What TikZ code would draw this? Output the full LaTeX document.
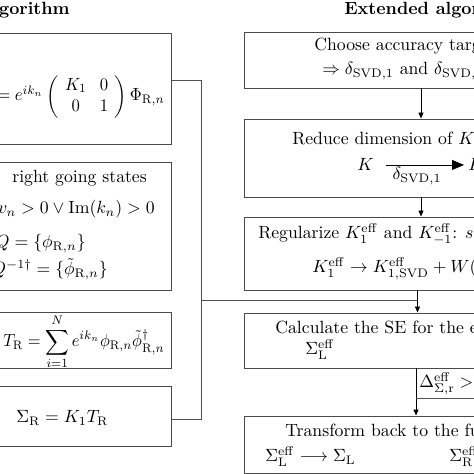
\documentclass[tikz,border=0pt]{standalone}
\usetikzlibrary{arrows.meta}
\definecolor{boxgray}{HTML}{4A4A4A}
\definecolor{linegray}{HTML}{505050}
\begin{document}
\begin{tikzpicture}[x=1pt,y=1pt,
  box/.style={draw=boxgray, line width=0.9pt, fill=white, minimum width=352pt, inner sep=0pt},
  txt/.style={inner sep=0pt, scale=1.77},
  conn/.style={draw=linegray, line width=0.8pt},
  arr/.style={draw=black, line width=0.8pt, -{Triangle[length=6pt,width=5pt]}},
  bigarr/.style={draw=black, line width=0.8pt, -{Triangle[length=12pt,width=10pt]}}]
\useasboundingbox (0,0) rectangle (474,474);
\clip (0,0) rectangle (474,474);
\fill[white] (0,0) rectangle (474,474);

% titles
\node[txt, anchor=base east] (tl) at (70,459) {\bfseries algorithm};
\node[txt, anchor=base west] (tr) at (344,459) {\bfseries Extended algorithm};

% left column boxes
\node[box, minimum height=111pt] (L1) at (-5,385.5) {};
\node[box, minimum height=128pt] (L2) at (-5,248) {};
\node[box, minimum height=56pt]  (L3) at (-5,134) {};
\node[box, minimum height=60pt]  (L4) at (-5,58) {};

% right column boxes
\node[box, minimum height=56pt] (R1) at (420,414) {};
\node[box, minimum height=78pt] (R2) at (420,316) {};
\node[box, minimum height=73pt] (R3) at (420,220.5) {};
\node[box, minimum height=55pt] (R4) at (420,133.5) {};
\node[box, minimum height=57pt] (R5) at (420,29.5) {};

% left texts
\node[txt, xscale=0.94, anchor=base east] (l1a) at (165,373) {\setlength{\arraycolsep}{4pt}$= e^{ik_n}\left(\begin{array}{cc}K_1 & 0\\ 0 & 1\end{array}\right)\Phi_{\mathrm{R},n}$};
\node[txt, anchor=base west] (l2a) at (12,291) {right going states};
\node[txt, anchor=base east] (l2b) at (155,260) {$v_n > 0 \vee \mathrm{Im}(k_n) > 0$};
\node[txt, anchor=base east] (l2c) at (86,226) {$Q = \{\phi_{\mathrm{R},n}\}$};
\node[txt, anchor=base east] (l2d) at (108,199) {$Q^{-1\dagger} = \{\tilde\phi_{\mathrm{R},n}\}$};
\node[txt, xscale=0.93, anchor=base west] (l3a) at (3,127) {$T_{\mathrm{R}} = \displaystyle\sum_{i=1}^{N} e^{ik_n}\phi_{\mathrm{R},n}\tilde\phi^{\dagger}_{\mathrm{R},n}$};
\node[txt, anchor=base west] (l4a) at (16,51) {$\Sigma_{\mathrm{R}} = K_1 T_{\mathrm{R}}$};

% right texts
\node[txt, anchor=base west] (r1a) at (314,423) {Choose accuracy target};
\node[txt, anchor=base west] (r1b) at (322,399) {$\Rightarrow \delta_{\mathrm{SVD},1}$ and $\delta_{\mathrm{SVD},2}$};
\node[txt, anchor=base west] (r2a) at (292,329) {Reduce dimension of $K$};
\node[txt, anchor=base west] (kA) at (357,303) {$K$};
\node[txt, anchor=base west] (kB) at (468,303) {$K^{\mathrm{eff}}$};
\node[txt, anchor=base] (kd) at (417,294) {$\delta_{\mathrm{SVD},1}$};
\node[txt, anchor=base west] (r3a) at (258,235) {Regularize $K_1^{\mathrm{eff}}$ and $K_{-1}^{\mathrm{eff}}$: $s$};
\node[txt, anchor=base west] (r3b) at (312,201) {$K_1^{\mathrm{eff}} \rightarrow K_{1,\mathrm{SVD}}^{\mathrm{eff}} + W($};
\node[txt, anchor=base west] (r4a) at (275,140) {Calculate the SE for the effective system};
\node[txt, anchor=base west] (r4b) at (305,119) {$\Sigma_{\mathrm{L}}^{\mathrm{eff}}$};
\node[txt, anchor=base west] (r5a) at (285,37) {Transform back to the full system};
\node[txt, anchor=base west] (r5b) at (265,12) {$\Sigma_{\mathrm{L}}^{\mathrm{eff}} \longrightarrow \Sigma_{\mathrm{L}}$};
\node[txt, anchor=base west] (r5c) at (449,12) {$\Sigma_{\mathrm{R}}^{\mathrm{eff}}$};
\node[txt, anchor=base west] (dl) at (419,86) {$\Delta^{\mathrm{eff}}_{\Sigma,\mathrm{r}} >$};

% inner arrow K -> K^eff
\draw[bigarr, shorten <=12pt, shorten >=4pt] (kA.east) -- (kA.east -| kB.west);

% connector coordinates
\coordinate (j1) at (201,394);
\coordinate (j2) at (201,55);
\coordinate (j3) at (201,174);
\coordinate (a12) at (421,0);
\coordinate (a34) at (417.5,0);
\coordinate (a45) at (416,0);
\coordinate (fb) at (500,76);

% connectors between left column and right column
\draw[conn] (L1.east |- j1) -- (j1) -- (j2) -- (L4.east |- j2);
\draw[conn] (j3) -- (j3 -| a34);

% arrows in the right column
\draw[arr] (R1.south -| a12) -- (R2.north -| a12);
\draw[arr] (R2.south -| a12) -- (R3.north -| a12);
\draw[arr] (R3.south -| a34) -- (R4.north -| a34);
\draw[arr] (R4.south -| a45) -- (R5.north -| a45);
\draw[conn] (fb -| a45) -- (fb);
\end{tikzpicture}
\end{document}
